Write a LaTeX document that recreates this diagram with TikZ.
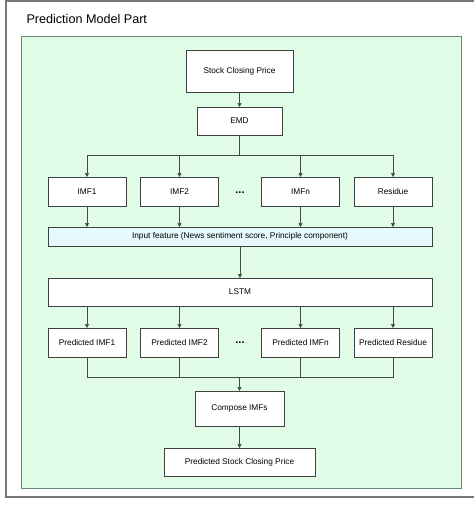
\documentclass[tikz,border=0pt]{standalone}
\usepackage{fontspec}
\setmainfont{Liberation Sans}
\usetikzlibrary{arrows.meta}
\definecolor{panelgreen}{RGB}{224,252,230}
\definecolor{panelline}{RGB}{105,135,115}
\definecolor{inputcyan}{RGB}{230,250,253}
\definecolor{linkgray}{RGB}{60,78,68}
\definecolor{framegray}{RGB}{120,120,120}

\begin{document}
\begin{tikzpicture}[x=1pt,y=-1pt,
	box/.style={draw=black!75,fill=white,line width=0.6pt,inner sep=0,outer sep=0,font=\fontsize{8.3}{10}\selectfont},
	dotsmark/.style={anchor=base,inner sep=0,font=\fontsize{11}{12}\selectfont\bfseries},
	link/.style={draw=linkgray,line width=0.7pt},
	arr/.style={link,-{Triangle[length=4pt,width=4pt]}}]
	\useasboundingbox (0,0) rectangle (474,520);
	\draw[framegray,line width=1.5pt] (6,1) rectangle (480,497);
	\node[anchor=base west,font=\fontsize{12.6}{15}\selectfont] (title) at (23,23) {Prediction Model Part};
	\draw[draw=panelline,fill=panelgreen,line width=0.8pt] (21,36) rectangle (461,488);
	\node[box,minimum width=107pt,minimum height=42pt] (stock) at (239.5,71) {Stock Closing Price};
	\node[box,minimum width=85pt,minimum height=28pt] (emd) at (239.5,121) {EMD};
	\node[box,minimum width=78pt,minimum height=29pt] (imf1) at (87,191.5) {IMF1};
	\node[box,minimum width=78pt,minimum height=29pt] (imf2) at (179.5,191.5) {IMF2};
	\node[dotsmark] (dots1) at (240,193) {...};
	\node[box,minimum width=78pt,minimum height=29pt] (imfn) at (300.5,191.5) {IMFn};
	\node[box,minimum width=78pt,minimum height=29pt] (residue) at (393,191.5) {Residue};
	\node[box,fill=inputcyan,minimum width=384pt,minimum height=19pt] (input) at (240,236.5) {Input feature (News sentiment score, Principle component)};
	\node[box,minimum width=384pt,minimum height=28pt] (lstm) at (240,292) {LSTM};
	\node[box,minimum width=78pt,minimum height=29pt] (pimf1) at (87,342.5) {Predicted IMF1};
	\node[box,minimum width=78pt,minimum height=29pt] (pimf2) at (179.5,342.5) {Predicted IMF2};
	\node[dotsmark] (dots2) at (240,343.5) {...};
	\node[box,minimum width=78pt,minimum height=29pt] (pimfn) at (300.5,342.5) {Predicted IMFn};
	\node[box,minimum width=78pt,minimum height=29pt] (presidue) at (393,342.5) {Predicted Residue};
	\node[box,minimum width=89pt,minimum height=35pt] (compose) at (239.5,408.5) {Compose IMFs};
	\node[box,minimum width=151pt,minimum height=28pt] (final) at (239.5,462) {Predicted Stock Closing Price};
	\coordinate (split) at (239.5,155);
	\coordinate (merge) at (239.5,377);
	\draw[arr] (stock) -- (emd);
	\draw[link] (emd) -- (split);
	\draw[arr] (split) -| (imf1);
	\draw[arr] (split) -| (imf2);
	\draw[arr] (split) -| (imfn);
	\draw[arr] (split) -| (residue);
	\draw[arr] (imf1) -- (imf1 |- input.north);
	\draw[arr] (imf2) -- (imf2 |- input.north);
	\draw[arr] (imfn) -- (imfn |- input.north);
	\draw[arr] (residue) -- (residue |- input.north);
	\draw[arr] (input) -- (lstm);
	\draw[arr] (pimf1 |- lstm.south) -- (pimf1);
	\draw[arr] (pimf2 |- lstm.south) -- (pimf2);
	\draw[arr] (pimfn |- lstm.south) -- (pimfn);
	\draw[arr] (presidue |- lstm.south) -- (presidue);
	\draw[link] (pimf1) |- (merge);
	\draw[link] (pimf2) |- (merge);
	\draw[link] (pimfn) |- (merge);
	\draw[link] (presidue) |- (merge);
	\draw[arr] (merge) -- (compose);
	\draw[arr] (compose) -- (final);
\end{tikzpicture}
\end{document}
